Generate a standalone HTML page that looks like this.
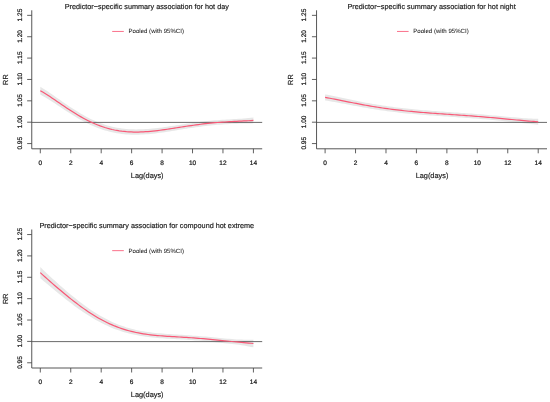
<!DOCTYPE html>
<html><head><meta charset="utf-8"><title>Predictor-specific summary association</title>
<style>
html,body{margin:0;padding:0;background:#fff;}
svg{display:block;}
text{font-family:"Liberation Sans",Arial,Helvetica,sans-serif;fill:#1a1a1a;stroke:#1a1a1a;stroke-width:0.16px;text-rendering:geometricPrecision;}
.t{font-size:6.5px;stroke-width:0.24px;}
.l{font-size:7.35px;}
.ti{font-size:7.28px;}
.lg{font-size:6.08px;stroke-width:0.06px;fill:#262626;}
</style></head><body>
<svg width="550" height="402" viewBox="0 0 550 402">
<rect width="550" height="402" fill="#fff"/>
<polygon points="40.30,86.84 42.69,88.26 45.09,89.75 47.48,91.31 49.88,92.91 52.27,94.55 54.67,96.21 57.06,97.89 59.46,99.57 61.85,101.25 64.24,102.92 66.64,104.56 69.03,106.19 71.43,107.78 73.82,109.34 76.22,110.86 78.61,112.33 81.01,113.75 83.40,115.12 85.79,116.43 88.19,117.68 90.58,118.88 92.98,120.00 95.37,121.07 97.77,122.07 100.16,123.00 102.56,123.87 104.95,124.67 107.35,125.40 109.74,126.06 112.13,126.66 114.53,127.20 116.92,127.67 119.32,128.08 121.71,128.43 124.11,128.73 126.50,128.96 128.90,129.14 131.29,129.27 133.68,129.35 136.08,129.39 138.47,129.37 140.87,129.32 143.26,129.23 145.66,129.10 148.05,128.93 150.45,128.74 152.84,128.51 155.23,128.27 157.63,127.99 160.02,127.70 162.42,127.39 164.81,127.06 167.21,126.72 169.60,126.37 172.00,126.02 174.39,125.65 176.78,125.29 179.18,124.92 181.57,124.55 183.97,124.19 186.36,123.83 188.76,123.48 191.15,123.14 193.55,122.80 195.94,122.48 198.34,122.16 200.73,121.86 203.12,121.58 205.52,121.31 207.91,121.05 210.31,120.81 212.70,120.59 215.10,120.37 217.49,120.18 219.89,120.00 222.28,119.83 224.67,119.67 227.07,119.52 229.46,119.38 231.86,119.25 234.25,119.12 236.65,118.97 239.04,118.81 241.44,118.63 243.83,118.45 246.22,118.25 248.62,118.04 251.01,117.82 253.41,117.58 253.41,123.33 251.01,123.38 248.62,123.42 246.22,123.45 243.83,123.48 241.44,123.52 239.04,123.58 236.65,123.64 234.25,123.73 231.86,123.85 229.46,123.98 227.07,124.13 224.67,124.28 222.28,124.45 219.89,124.64 217.49,124.84 215.10,125.05 212.70,125.28 210.31,125.53 207.91,125.79 205.52,126.07 203.12,126.35 200.73,126.66 198.34,126.98 195.94,127.30 193.55,127.65 191.15,128.00 188.76,128.36 186.36,128.73 183.97,129.11 181.57,129.49 179.18,129.87 176.78,130.26 174.39,130.64 172.00,131.03 169.60,131.40 167.21,131.77 164.81,132.13 162.42,132.48 160.02,132.81 157.63,133.12 155.23,133.42 152.84,133.69 150.45,133.93 148.05,134.15 145.66,134.34 143.26,134.49 140.87,134.60 138.47,134.68 136.08,134.72 133.68,134.71 131.29,134.65 128.90,134.55 126.50,134.39 124.11,134.18 121.71,133.92 119.32,133.60 116.92,133.22 114.53,132.78 112.13,132.28 109.74,131.71 107.35,131.09 104.95,130.40 102.56,129.64 100.16,128.82 97.77,127.94 95.37,126.99 92.98,125.98 90.58,124.91 88.19,123.77 85.79,122.58 83.40,121.32 81.01,120.02 78.61,118.66 76.22,117.26 73.82,115.81 71.43,114.32 69.03,112.80 66.64,111.25 64.24,109.68 61.85,108.09 59.46,106.49 57.06,104.90 54.67,103.32 52.27,101.76 49.88,100.23 47.48,98.74 45.09,97.30 42.69,95.92 40.30,94.62" fill="#dcdcdc" fill-opacity="0.68"/>
<path d="M31.75 10.30V148.80H262.20" fill="none" stroke="#444444" stroke-width="0.9"/>
<path d="M31.75 122.40H262.20" stroke="#505050" stroke-width="0.85"/>
<path d="M31.75 143.57h-4.6M31.75 122.20h-4.6M31.75 100.83h-4.6M31.75 79.46h-4.6M31.75 58.09h-4.6M31.75 36.72h-4.6M31.75 15.35h-4.6M40.30 148.80v4.5M70.74 148.80v4.5M101.19 148.80v4.5M131.63 148.80v4.5M162.08 148.80v4.5M192.52 148.80v4.5M222.96 148.80v4.5M253.41 148.80v4.5" stroke="#444444" stroke-width="0.85" fill="none"/>
<polyline points="40.30,90.73 42.69,92.09 45.09,93.53 47.48,95.02 49.88,96.57 52.27,98.15 54.67,99.77 57.06,101.40 59.46,103.03 61.85,104.67 64.24,106.30 66.64,107.91 69.03,109.49 71.43,111.05 73.82,112.57 76.22,114.06 78.61,115.49 81.01,116.88 83.40,118.22 85.79,119.50 88.19,120.73 90.58,121.89 92.98,122.99 95.37,124.03 97.77,125.00 100.16,125.91 102.56,126.75 104.95,127.53 107.35,128.24 109.74,128.89 112.13,129.47 114.53,129.99 116.92,130.44 119.32,130.84 121.71,131.18 124.11,131.45 126.50,131.68 128.90,131.84 131.29,131.96 133.68,132.03 136.08,132.05 138.47,132.03 140.87,131.96 143.26,131.86 145.66,131.72 148.05,131.54 150.45,131.34 152.84,131.10 155.23,130.84 157.63,130.56 160.02,130.25 162.42,129.93 164.81,129.60 167.21,129.25 169.60,128.89 172.00,128.52 174.39,128.15 176.78,127.77 179.18,127.40 181.57,127.02 183.97,126.65 186.36,126.28 188.76,125.92 191.15,125.57 193.55,125.22 195.94,124.89 198.34,124.57 200.73,124.26 203.12,123.97 205.52,123.69 207.91,123.42 210.31,123.17 212.70,122.93 215.10,122.71 217.49,122.51 219.89,122.32 222.28,122.14 224.67,121.98 227.07,121.82 229.46,121.68 231.86,121.55 234.25,121.42 236.65,121.31 239.04,121.19 241.44,121.08 243.83,120.97 246.22,120.85 248.62,120.73 251.01,120.60 253.41,120.46" fill="none" stroke="#f95876" stroke-width="1.2" stroke-linejoin="round"/>
<text class="t" transform="translate(21.55 143.27) rotate(-90)" text-anchor="middle">0.95</text>
<text class="t" transform="translate(21.55 121.90) rotate(-90)" text-anchor="middle">1.00</text>
<text class="t" transform="translate(21.55 100.53) rotate(-90)" text-anchor="middle">1.05</text>
<text class="t" transform="translate(21.55 79.16) rotate(-90)" text-anchor="middle">1.10</text>
<text class="t" transform="translate(21.55 57.79) rotate(-90)" text-anchor="middle">1.15</text>
<text class="t" transform="translate(21.55 36.42) rotate(-90)" text-anchor="middle">1.20</text>
<text class="t" transform="translate(21.55 15.05) rotate(-90)" text-anchor="middle">1.25</text>
<text class="t" x="40.30" y="164.90" text-anchor="middle">0</text>
<text class="t" x="70.74" y="164.90" text-anchor="middle">2</text>
<text class="t" x="101.19" y="164.90" text-anchor="middle">4</text>
<text class="t" x="131.63" y="164.90" text-anchor="middle">6</text>
<text class="t" x="162.08" y="164.90" text-anchor="middle">8</text>
<text class="t" x="192.52" y="164.90" text-anchor="middle">10</text>
<text class="t" x="222.96" y="164.90" text-anchor="middle">12</text>
<text class="t" x="253.41" y="164.90" text-anchor="middle">14</text>
<text class="l" x="147.20" y="177.90" text-anchor="middle">Lag(days)</text>
<text class="l" transform="translate(7.95 79.60) rotate(-90)" text-anchor="middle">RR</text>
<text class="ti" x="146.80" y="8.50" text-anchor="middle">Predictor−specific summary association for hot day</text>
<path d="M112.20 31.45h11.6" stroke="#f95876" stroke-width="0.85"/>
<text class="lg" x="128.50" y="33.40">Pooled (with 95%CI)</text>
<polygon points="325.10,94.40 327.49,94.86 329.89,95.34 332.28,95.83 334.68,96.32 337.07,96.82 339.47,97.32 341.86,97.82 344.26,98.33 346.65,98.83 349.04,99.33 351.44,99.82 353.83,100.31 356.23,100.79 358.62,101.27 361.02,101.73 363.41,102.19 365.81,102.64 368.20,103.07 370.59,103.50 372.99,103.92 375.38,104.32 377.78,104.72 380.17,105.10 382.57,105.47 384.96,105.83 387.36,106.18 389.75,106.52 392.15,106.84 394.54,107.16 396.93,107.46 399.33,107.75 401.72,108.03 404.12,108.30 406.51,108.56 408.91,108.81 411.30,109.05 413.70,109.29 416.09,109.51 418.48,109.73 420.88,109.93 423.27,110.14 425.67,110.33 428.06,110.52 430.46,110.71 432.85,110.89 435.25,111.07 437.64,111.24 440.03,111.41 442.43,111.58 444.82,111.75 447.22,111.91 449.61,112.08 452.01,112.24 454.40,112.41 456.80,112.58 459.19,112.74 461.58,112.91 463.98,113.08 466.37,113.26 468.77,113.44 471.16,113.62 473.56,113.80 475.95,113.99 478.35,114.18 480.74,114.37 483.14,114.57 485.53,114.77 487.92,114.98 490.32,115.19 492.71,115.40 495.11,115.61 497.50,115.83 499.90,116.05 502.29,116.27 504.69,116.49 507.08,116.71 509.47,116.93 511.87,117.15 514.26,117.37 516.66,117.59 519.05,117.79 521.45,117.98 523.84,118.15 526.24,118.30 528.63,118.44 531.02,118.56 533.42,118.66 535.81,118.74 538.21,118.81 538.21,124.77 535.81,124.52 533.42,124.26 531.02,123.99 528.63,123.72 526.24,123.44 523.84,123.17 521.45,122.90 519.05,122.63 516.66,122.39 514.26,122.14 511.87,121.90 509.47,121.65 507.08,121.41 504.69,121.17 502.29,120.93 499.90,120.69 497.50,120.46 495.11,120.23 492.71,120.01 490.32,119.79 487.92,119.58 485.53,119.37 483.14,119.17 480.74,118.97 478.35,118.78 475.95,118.59 473.56,118.41 471.16,118.23 468.77,118.05 466.37,117.88 463.98,117.71 461.58,117.54 459.19,117.38 456.80,117.22 454.40,117.06 452.01,116.90 449.61,116.74 447.22,116.58 444.82,116.43 442.43,116.27 440.03,116.11 437.64,115.95 435.25,115.78 432.85,115.61 430.46,115.44 428.06,115.27 425.67,115.09 423.27,114.90 420.88,114.71 418.48,114.51 416.09,114.30 413.70,114.09 411.30,113.87 408.91,113.64 406.51,113.40 404.12,113.16 401.72,112.90 399.33,112.64 396.93,112.36 394.54,112.08 392.15,111.78 389.75,111.47 387.36,111.16 384.96,110.83 382.57,110.49 380.17,110.14 377.78,109.78 375.38,109.41 372.99,109.03 370.59,108.64 368.20,108.24 365.81,107.83 363.41,107.41 361.02,106.98 358.62,106.55 356.23,106.11 353.83,105.67 351.44,105.22 349.04,104.77 346.65,104.32 344.26,103.87 341.86,103.42 339.47,102.97 337.07,102.52 334.68,102.08 332.28,101.64 329.89,101.21 327.49,100.79 325.10,100.39" fill="#dcdcdc" fill-opacity="0.68"/>
<path d="M316.55 10.30V148.80H547.00" fill="none" stroke="#444444" stroke-width="0.9"/>
<path d="M316.55 122.40H547.00" stroke="#505050" stroke-width="0.85"/>
<path d="M316.55 143.57h-4.6M316.55 122.20h-4.6M316.55 100.83h-4.6M316.55 79.46h-4.6M316.55 58.09h-4.6M316.55 36.72h-4.6M316.55 15.35h-4.6M325.10 148.80v4.5M355.54 148.80v4.5M385.99 148.80v4.5M416.43 148.80v4.5M446.88 148.80v4.5M477.32 148.80v4.5M507.76 148.80v4.5M538.21 148.80v4.5" stroke="#444444" stroke-width="0.85" fill="none"/>
<polyline points="325.10,97.39 327.49,97.83 329.89,98.28 332.28,98.73 334.68,99.20 337.07,99.67 339.47,100.14 341.86,100.62 344.26,101.10 346.65,101.58 349.04,102.05 351.44,102.52 353.83,102.99 356.23,103.45 358.62,103.91 361.02,104.36 363.41,104.80 365.81,105.23 368.20,105.66 370.59,106.07 372.99,106.47 375.38,106.87 377.78,107.25 380.17,107.62 382.57,107.98 384.96,108.33 387.36,108.67 389.75,109.00 392.15,109.31 394.54,109.62 396.93,109.91 399.33,110.19 401.72,110.47 404.12,110.73 406.51,110.98 408.91,111.23 411.30,111.46 413.70,111.69 416.09,111.91 418.48,112.12 420.88,112.32 423.27,112.52 425.67,112.71 428.06,112.89 430.46,113.08 432.85,113.25 435.25,113.42 437.64,113.59 440.03,113.76 442.43,113.92 444.82,114.09 447.22,114.25 449.61,114.41 452.01,114.57 454.40,114.73 456.80,114.90 459.19,115.06 461.58,115.23 463.98,115.40 466.37,115.57 468.77,115.74 471.16,115.92 473.56,116.10 475.95,116.29 478.35,116.48 480.74,116.67 483.14,116.87 485.53,117.07 487.92,117.28 490.32,117.49 492.71,117.70 495.11,117.92 497.50,118.14 499.90,118.37 502.29,118.60 504.69,118.83 507.08,119.06 509.47,119.29 511.87,119.52 514.26,119.76 516.66,119.99 519.05,120.21 521.45,120.44 523.84,120.66 526.24,120.87 528.63,121.08 531.02,121.27 533.42,121.46 535.81,121.63 538.21,121.79" fill="none" stroke="#f95876" stroke-width="1.2" stroke-linejoin="round"/>
<text class="t" transform="translate(306.35 143.27) rotate(-90)" text-anchor="middle">0.95</text>
<text class="t" transform="translate(306.35 121.90) rotate(-90)" text-anchor="middle">1.00</text>
<text class="t" transform="translate(306.35 100.53) rotate(-90)" text-anchor="middle">1.05</text>
<text class="t" transform="translate(306.35 79.16) rotate(-90)" text-anchor="middle">1.10</text>
<text class="t" transform="translate(306.35 57.79) rotate(-90)" text-anchor="middle">1.15</text>
<text class="t" transform="translate(306.35 36.42) rotate(-90)" text-anchor="middle">1.20</text>
<text class="t" transform="translate(306.35 15.05) rotate(-90)" text-anchor="middle">1.25</text>
<text class="t" x="325.10" y="164.90" text-anchor="middle">0</text>
<text class="t" x="355.54" y="164.90" text-anchor="middle">2</text>
<text class="t" x="385.99" y="164.90" text-anchor="middle">4</text>
<text class="t" x="416.43" y="164.90" text-anchor="middle">6</text>
<text class="t" x="446.88" y="164.90" text-anchor="middle">8</text>
<text class="t" x="477.32" y="164.90" text-anchor="middle">10</text>
<text class="t" x="507.76" y="164.90" text-anchor="middle">12</text>
<text class="t" x="538.21" y="164.90" text-anchor="middle">14</text>
<text class="l" x="432.00" y="177.90" text-anchor="middle">Lag(days)</text>
<text class="l" transform="translate(292.75 79.60) rotate(-90)" text-anchor="middle">RR</text>
<text class="ti" x="431.60" y="8.50" text-anchor="middle">Predictor−specific summary association for hot night</text>
<path d="M397.00 31.45h11.6" stroke="#f95876" stroke-width="0.85"/>
<text class="lg" x="413.30" y="33.40">Pooled (with 95%CI)</text>
<polygon points="40.30,267.07 42.69,269.39 45.09,271.69 47.48,273.95 49.88,276.20 52.27,278.41 54.67,280.60 57.06,282.77 59.46,284.91 61.85,287.02 64.24,289.10 66.64,291.15 69.03,293.16 71.43,295.14 73.82,297.09 76.22,299.00 78.61,300.88 81.01,302.72 83.40,304.51 85.79,306.27 88.19,307.97 90.58,309.63 92.98,311.24 95.37,312.79 97.77,314.28 100.16,315.71 102.56,317.07 104.95,318.37 107.35,319.61 109.74,320.79 112.13,321.91 114.53,322.97 116.92,323.97 119.32,324.91 121.71,325.79 124.11,326.61 126.50,327.38 128.90,328.09 131.29,328.75 133.68,329.36 136.08,329.91 138.47,330.42 140.87,330.88 143.26,331.30 145.66,331.68 148.05,332.03 150.45,332.35 152.84,332.63 155.23,332.90 157.63,333.14 160.02,333.36 162.42,333.56 164.81,333.74 167.21,333.92 169.60,334.09 172.00,334.24 174.39,334.40 176.78,334.55 179.18,334.70 181.57,334.85 183.97,335.00 186.36,335.15 188.76,335.31 191.15,335.47 193.55,335.64 195.94,335.82 198.34,336.00 200.73,336.20 203.12,336.39 205.52,336.60 207.91,336.81 210.31,337.03 212.70,337.26 215.10,337.48 217.49,337.71 219.89,337.95 222.28,338.18 224.67,338.41 227.07,338.64 229.46,338.87 231.86,339.10 234.25,339.30 236.65,339.44 239.04,339.54 241.44,339.61 243.83,339.64 246.22,339.65 248.62,339.65 251.01,339.64 253.41,339.64 253.41,347.34 251.01,346.89 248.62,346.45 246.22,346.02 243.83,345.60 241.44,345.20 239.04,344.82 236.65,344.48 234.25,344.16 231.86,343.90 229.46,343.65 227.07,343.40 224.67,343.15 222.28,342.89 219.89,342.64 217.49,342.40 215.10,342.15 212.70,341.91 210.31,341.68 207.91,341.45 205.52,341.23 203.12,341.01 200.73,340.81 198.34,340.61 195.94,340.42 193.55,340.24 191.15,340.07 188.76,339.91 186.36,339.75 183.97,339.60 181.57,339.46 179.18,339.32 176.78,339.19 174.39,339.05 172.00,338.92 169.60,338.78 167.21,338.63 164.81,338.48 162.42,338.32 160.02,338.14 157.63,337.95 155.23,337.74 152.84,337.50 150.45,337.25 148.05,336.96 145.66,336.65 143.26,336.30 140.87,335.92 138.47,335.50 136.08,335.05 133.68,334.55 131.29,334.02 128.90,333.44 126.50,332.81 124.11,332.13 121.71,331.40 119.32,330.62 116.92,329.78 114.53,328.88 112.13,327.93 109.74,326.92 107.35,325.85 104.95,324.73 102.56,323.54 100.16,322.31 97.77,321.02 95.37,319.68 92.98,318.29 90.58,316.85 88.19,315.36 85.79,313.82 83.40,312.22 81.01,310.58 78.61,308.89 76.22,307.16 73.82,305.39 71.43,303.58 69.03,301.74 66.64,299.88 64.24,297.99 61.85,296.08 59.46,294.15 57.06,292.21 54.67,290.26 52.27,288.29 49.88,286.31 47.48,284.32 45.09,282.31 42.69,280.28 40.30,278.24" fill="#dcdcdc" fill-opacity="0.68"/>
<path d="M31.75 229.50V368.00H262.20" fill="none" stroke="#444444" stroke-width="0.9"/>
<path d="M31.75 341.60H262.20" stroke="#505050" stroke-width="0.85"/>
<path d="M31.75 362.77h-4.6M31.75 341.40h-4.6M31.75 320.03h-4.6M31.75 298.66h-4.6M31.75 277.29h-4.6M31.75 255.92h-4.6M31.75 234.55h-4.6M40.30 368.00v4.5M70.74 368.00v4.5M101.19 368.00v4.5M131.63 368.00v4.5M162.08 368.00v4.5M192.52 368.00v4.5M222.96 368.00v4.5M253.41 368.00v4.5" stroke="#444444" stroke-width="0.85" fill="none"/>
<polyline points="40.30,272.66 42.69,274.84 45.09,277.00 47.48,279.14 49.88,281.25 52.27,283.35 54.67,285.43 57.06,287.49 59.46,289.53 61.85,291.55 64.24,293.54 66.64,295.51 69.03,297.45 71.43,299.36 73.82,301.24 76.22,303.08 78.61,304.88 81.01,306.65 83.40,308.37 85.79,310.04 88.19,311.67 90.58,313.24 92.98,314.77 95.37,316.24 97.77,317.65 100.16,319.01 102.56,320.31 104.95,321.55 107.35,322.73 109.74,323.86 112.13,324.92 114.53,325.93 116.92,326.87 119.32,327.76 121.71,328.59 124.11,329.37 126.50,330.09 128.90,330.76 131.29,331.38 133.68,331.95 136.08,332.48 138.47,332.96 140.87,333.40 143.26,333.80 145.66,334.16 148.05,334.50 150.45,334.80 152.84,335.07 155.23,335.32 157.63,335.54 160.02,335.75 162.42,335.94 164.81,336.11 167.21,336.28 169.60,336.43 172.00,336.58 174.39,336.72 176.78,336.87 179.18,337.01 181.57,337.15 183.97,337.30 186.36,337.45 188.76,337.61 191.15,337.77 193.55,337.94 195.94,338.12 198.34,338.31 200.73,338.50 203.12,338.70 205.52,338.91 207.91,339.13 210.31,339.35 212.70,339.58 215.10,339.82 217.49,340.05 219.89,340.30 222.28,340.54 224.67,340.78 227.07,341.02 229.46,341.26 231.86,341.50 234.25,341.73 236.65,341.96 239.04,342.18 241.44,342.41 243.83,342.62 246.22,342.84 248.62,343.05 251.01,343.27 253.41,343.49" fill="none" stroke="#f95876" stroke-width="1.2" stroke-linejoin="round"/>
<text class="t" transform="translate(21.55 362.47) rotate(-90)" text-anchor="middle">0.95</text>
<text class="t" transform="translate(21.55 341.10) rotate(-90)" text-anchor="middle">1.00</text>
<text class="t" transform="translate(21.55 319.73) rotate(-90)" text-anchor="middle">1.05</text>
<text class="t" transform="translate(21.55 298.36) rotate(-90)" text-anchor="middle">1.10</text>
<text class="t" transform="translate(21.55 276.99) rotate(-90)" text-anchor="middle">1.15</text>
<text class="t" transform="translate(21.55 255.62) rotate(-90)" text-anchor="middle">1.20</text>
<text class="t" transform="translate(21.55 234.25) rotate(-90)" text-anchor="middle">1.25</text>
<text class="t" x="40.30" y="384.10" text-anchor="middle">0</text>
<text class="t" x="70.74" y="384.10" text-anchor="middle">2</text>
<text class="t" x="101.19" y="384.10" text-anchor="middle">4</text>
<text class="t" x="131.63" y="384.10" text-anchor="middle">6</text>
<text class="t" x="162.08" y="384.10" text-anchor="middle">8</text>
<text class="t" x="192.52" y="384.10" text-anchor="middle">10</text>
<text class="t" x="222.96" y="384.10" text-anchor="middle">12</text>
<text class="t" x="253.41" y="384.10" text-anchor="middle">14</text>
<text class="l" x="147.20" y="397.10" text-anchor="middle">Lag(days)</text>
<text class="l" transform="translate(7.95 298.80) rotate(-90)" text-anchor="middle">RR</text>
<text class="ti" x="146.80" y="227.70" text-anchor="middle">Predictor−specific summary association for compound hot extreme</text>
<path d="M112.20 250.65h11.6" stroke="#f95876" stroke-width="0.85"/>
<text class="lg" x="128.50" y="252.60">Pooled (with 95%CI)</text>
</svg>
</body></html>
